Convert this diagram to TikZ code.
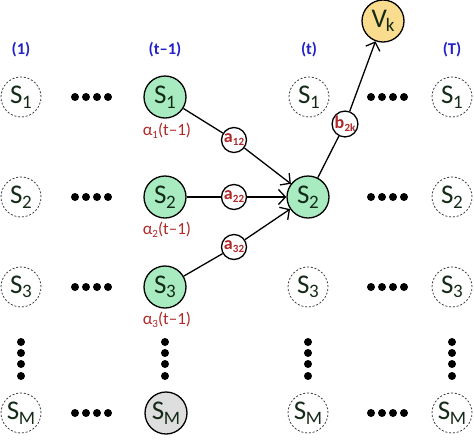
\documentclass[tikz,border=0pt]{standalone}
\usepackage{fontspec}
\setmainfont{Carlito}
\usetikzlibrary{arrows.meta}
\definecolor{sgreen}{HTML}{A8EBC0}
\definecolor{syellow}{HTML}{F9DC8E}
\definecolor{sgray}{HTML}{DEDEDE}
\definecolor{stext}{HTML}{142A18}
\definecolor{pred}{HTML}{B02828}
\definecolor{hblue}{HTML}{2222C8}
\newcommand{\Sx}[1]{{\fontsize{27}{27}\selectfont S\kern-0.3pt\raisebox{-4.5pt}{\fontsize{19}{19}\selectfont #1}}}
\newcommand{\Vx}[1]{{\fontsize{27}{27}\selectfont V\kern-1pt\raisebox{-4.5pt}{\fontsize{19}{19}\selectfont #1}}}
\newcommand{\Px}[2]{#1\kern0.2pt\raisebox{-3pt}{\fontsize{11}{11}\selectfont #2}}
\newcommand{\Al}[1]{α\raisebox{-3pt}{\fontsize{11}{11}\selectfont #1}(t–1)}
\begin{document}
\begin{tikzpicture}[x=1pt,y=-1pt,
  st/.style={circle,minimum size=42pt,inner sep=0pt,draw=black,line width=1.3pt,text=stext},
  hid/.style={circle,minimum size=40pt,inner sep=0pt,draw=black!75,dash pattern=on 2pt off 1.8pt,line width=0.8pt,text=stext},
  prob/.style={circle,minimum size=25pt,inner sep=0pt,draw=black,line width=1.3pt,fill=white,text=pred,font=\bfseries\fontsize{18}{18}\selectfont},
  hdr/.style={text=hblue,font=\bfseries\fontsize{16.5}{16.5}\selectfont},
  alab/.style={text=pred,font=\fontsize{17}{17}\selectfont},
  conn/.style={line width=1.3pt},
  arr/.style={conn,-{Straight Barb[length=7pt,width=15pt]}}]
\useasboundingbox (0,0) rectangle (474,440);
% headers
\node[hdr] (h1) at (21,50) {(1)};
\node[hdr] (h2) at (165,50) {(t–1)};
\node[hdr] (h3) at (309,50) {(t)};
\node[hdr] (h4) at (452,50) {(T)};
% column 1
\node[hid] (c1s1) at (21,97) {\Sx{1}};
\node[hid] (c1s2) at (21,197) {\Sx{2}};
\node[hid] (c1s3) at (21,287) {\Sx{3}};
\node[hid] (c1sm) at (21,413) {\Sx{M}};
% column 2
\node[st,fill=sgreen] (c2s1) at (165,97) {\Sx{1}};
\node[st,fill=sgreen] (c2s2) at (165,197) {\Sx{2}};
\node[st,fill=sgreen] (c2s3) at (165,287) {\Sx{3}};
\node[st,fill=sgray] (c2sm) at (166,413) {\Sx{M}};
\node[alab] (al1) at (167,131) {\Al{1}};
\node[alab] (al2) at (167,230) {\Al{2}};
\node[alab] (al3) at (167,320) {\Al{3}};
% column 3
\node[hid] (c3s1) at (309,97) {\Sx{1}};
\node[st,fill=sgreen] (c3s2) at (308,197) {\Sx{2}};
\node[hid] (c3s3) at (308,287) {\Sx{3}};
\node[hid] (c3sm) at (308,413) {\Sx{M}};
% column 4
\node[hid] (c4s1) at (452,97) {\Sx{1}};
\node[hid] (c4s2) at (452,197) {\Sx{2}};
\node[hid] (c4s3) at (452,287) {\Sx{3}};
\node[hid] (c4sm) at (452,413) {\Sx{M}};
% observation
\node[st,fill=syellow] (vk) at (383,21) {\Vx{k}};
% probability nodes
\node[prob] (a12) at (234,140) {\Px{a}{12}};
\node[prob] (a22) at (234,197) {\Px{a}{22}};
\node[prob] (a32) at (234,247) {\Px{a}{32}};
\node[prob] (b2k) at (345,124) {\Px{b}{2k}};
% connectors
\draw[conn] (c2s1) -- (a12);
\draw[arr] (a12) -- (c3s2);
\draw[conn] (c2s2) -- (a22);
\draw[arr] (a22) -- (c3s2);
\draw[conn] (c2s3) -- (a32);
\draw[arr] (a32) -- (c3s2);
\draw[conn] (c3s2) -- (b2k);
\draw[arr] (b2k) -- (vk);
% dots
\foreach \y in {97,197,287,413} {
  \foreach \x in {75,86,97,108} \fill (\x,\y) circle (4pt);
  \foreach \x in {371,382,393,404} \fill (\x,\y) circle (4pt);
}
\foreach \x in {21,165,308,452} {
  \foreach \y in {342,353,364,376} \fill (\x,\y) circle (4pt);
}
\end{tikzpicture}
\end{document}
